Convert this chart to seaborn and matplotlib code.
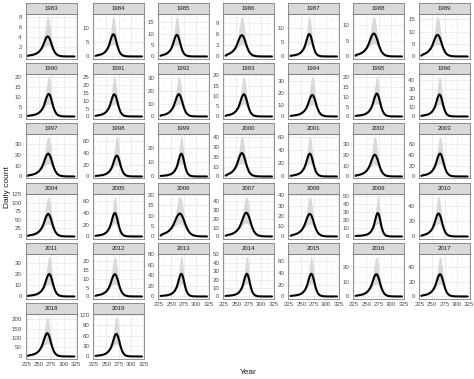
'''Faceted daily counts per year: fitted curve with grey interval ribbon.'''

import numpy as np
import pandas as pd
import matplotlib.pyplot as plt
import seaborn as sns
from matplotlib.ticker import MultipleLocator

# data
years = list(range(1983, 2020))
peak = [4.1, 7.7, 9.5, 5.8, 7.8, 7.4, 8.7,
        11.5, 14.0, 17.5, 10.8, 18.0, 11.5, 24.0,
        21.0, 35.0, 16.0, 24.0, 35.0, 20.0, 42.0,
        67.0, 40.0, 11.0, 27.0, 22.0, 29.0, 30.0,
        20.0, 12.5, 43.0, 27.0, 38.0, 15.0, 30.0,
        125.0, 65.0]
peak_day = [268, 264, 261, 261, 266, 265, 261,
            270, 266, 265, 265, 272, 271, 265,
            269, 271, 270, 261, 267, 267, 266,
            269, 267, 267, 270, 267, 273, 263,
            271, 267, 270, 271, 270, 270, 266,
            267, 270]
spread = [1.1, 0.95, 0.95, 1.15, 0.9, 1.2, 1.15,
          1.0, 0.95, 1.05, 1.0, 1.05, 0.95, 0.9,
          1.15, 0.95, 0.85, 1.1, 0.95, 1.1, 1.0,
          1.1, 0.9, 1.4, 1.2, 1.15, 0.8, 1.0,
          1.0, 1.05, 0.85, 0.85, 0.9, 1.05, 1.0,
          1.05, 0.95]
ribbon_top = [8.25, 14.0, 17.7, 11.0, 14.0, 13.0, 16.2,
              20.6, 25.4, 31.7, 19.6, 33.8, 20.3, 44.2,
              37.1, 67.6, 28.3, 41.3, 61.9, 37.1, 74.3,
              120.0, 68.8, 19.4, 45.8, 39.3, 49.9, 52.7,
              35.9, 22.6, 76.5, 48.0, 67.7, 27.1, 54.2,
              217.0, 116.0]
tick_step = [2, 5, 5, 3, 5, 5, 5,
             5, 5, 10, 5, 10, 5, 10,
             10, 20, 10, 10, 20, 10, 20,
             25, 20, 5, 10, 10, 10, 20,
             10, 5, 20, 10, 20, 10, 20,
             50, 30]

# shape of the season curve around its peak (days from peak)
offsets = [-60, -50, -42, -35, -30, -25, -20, -16, -12, -9, -6, -4, -2, 0,
           2, 4, 6, 8, 10, 13, 16, 20, 25, 30, 40, 50, 65]
shape = [0.02, 0.028, 0.035, 0.05, 0.07, 0.10, 0.16, 0.24, 0.37, 0.53, 0.74, 0.87, 0.965, 1.0,
         0.96, 0.85, 0.70, 0.53, 0.38, 0.21, 0.11, 0.045, 0.015, 0.005, 0.001, 0.0, 0.0]
spike = [0, 0, 0, 0, 0, 0, 0, 0, 0.0, 0.12, 0.4, 0.68, 0.92, 1.0,
         0.92, 0.68, 0.4, 0.2, 0.06, 0.0, 0, 0, 0, 0, 0, 0, 0]
low_ratio = [0.97, 0.97, 0.97, 0.97, 0.97, 0.97, 0.97, 0.93, 0.85, 0.76, 0.66, 0.6, 0.56, 0.55,
             0.56, 0.6, 0.66, 0.72, 0.8, 0.88, 0.93, 0.97, 0.97, 0.97, 0.97, 0.97, 0.97]

rows = []
for y, p, c, s, top in zip(years, peak, peak_day, spread, ribbon_top):
    for o, sh, sp, lr in zip(offsets, shape, spike, low_ratio):
        day = min(max(c + o * s, 228), 322)
        fit = p * sh
        rows.append({'year': y, 'day': day, 'fit': fit,
                     'lower': fit * lr, 'upper': fit + (top - p) * sp})
df = pd.DataFrame(rows)

sns.set_theme(style="white")
plt.rcParams['font.family'] = ['Liberation Sans', 'DejaVu Sans']

W, H = 474, 379
fig = plt.figure(figsize=(W / 100, H / 100), dpi=100)
col_left = [25.7, 93.3, 158.3, 223.3, 288.3, 353.3, 419.0]
pw, ph, sh_ = 51, 44.5, 11
border = '#808080'
fs = 4.4

for i, y in enumerate(years):
    r, c = divmod(i, 7)
    x0 = col_left[c]
    top = 14 + 60 * r
    ax = fig.add_axes([x0 / W, 1 - (top + ph) / H, pw / W, ph / H])
    d = df[df['year'] == y]
    ax.fill_between(d['day'], d['lower'], d['upper'], color='#d9d9d9', lw=0)
    sns.lineplot(data=d, x='day', y='fit', ax=ax, color='black', lw=1.5, sort=False)
    ymax = d['upper'].max()
    ax.set_xlim(223.3, 326.7)
    ax.set_ylim(-0.05 * ymax, 1.05 * ymax)
    ax.xaxis.set_major_locator(MultipleLocator(25))
    ax.xaxis.set_minor_locator(MultipleLocator(12.5))
    ax.yaxis.set_major_locator(MultipleLocator(tick_step[i]))
    ax.yaxis.set_minor_locator(MultipleLocator(tick_step[i] / 2))
    ax.grid(which='major', color='#e6e6e6', lw=0.5)
    ax.grid(which='minor', color='#f2f2f2', lw=0.35)
    ax.set_axisbelow(True)
    ax.set_xlabel('')
    ax.set_ylabel('')
    for sp_ in ax.spines.values():
        sp_.set_color(border)
        sp_.set_linewidth(0.6)
    ax.tick_params(axis='y', which='major', length=1.8, width=0.5, color='#555555',
                   labelsize=fs, labelcolor='#4d4d4d', pad=1)
    ax.tick_params(which='minor', length=0)
    if i >= 30:
        ax.tick_params(axis='x', which='major', length=1.8, width=0.5, color='#555555',
                       labelsize=fs, labelcolor='#4d4d4d', pad=1)
    else:
        ax.tick_params(axis='x', which='major', length=0, labelbottom=False)

    # strip
    sax = fig.add_axes([x0 / W, 1 - top / H, pw / W, sh_ / H])
    sax.set_facecolor('#d9d9d9')
    sax.set_xticks([])
    sax.set_yticks([])
    for sp_ in sax.spines.values():
        sp_.set_color(border)
        sp_.set_linewidth(0.6)
    sax.text(0.5, 0.5, str(y), ha='center', va='center', fontsize=fs, color='#1a1a1a',
             transform=sax.transAxes)

fig.text(8 / W, 1 - 187 / H, 'Daily count', rotation=90, ha='center', va='center',
         fontsize=6, color='#1a1a1a')
fig.text(248 / W, 1 - 372 / H, 'Year', ha='center', va='center', fontsize=6, color='#1a1a1a')

fig.savefig('out.png', dpi=100)
